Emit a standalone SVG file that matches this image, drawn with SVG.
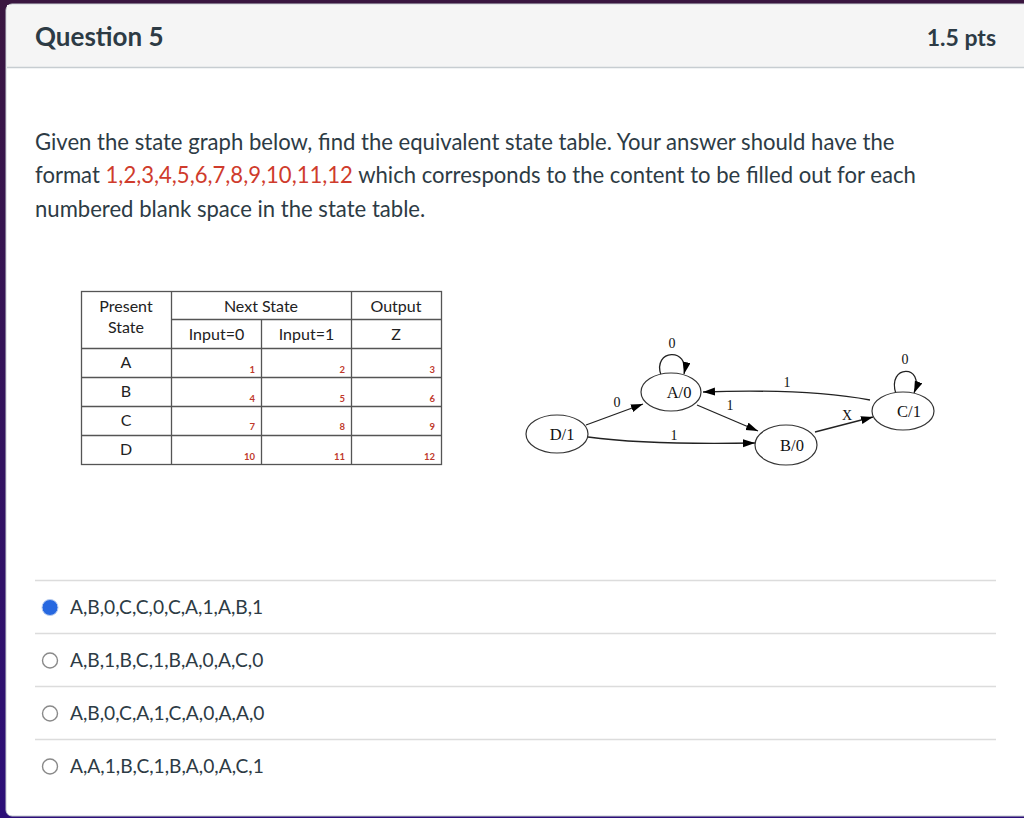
<svg xmlns="http://www.w3.org/2000/svg" width="1024" height="818" viewBox="0 0 1024 818">
<defs>
<linearGradient id="bg" x1="0" y1="0" x2="0" y2="1">
<stop offset="0" stop-color="#3a1640"/>
<stop offset="1" stop-color="#2c0f78"/>
</linearGradient>
<marker id="ah" markerUnits="userSpaceOnUse" markerWidth="12" markerHeight="9" refX="12" refY="4" orient="auto">
<path d="M0,0 L12,4 L0,8 z" fill="#000"/>
</marker>
<style>
.t{font-family:Lato,"Noto Sans",sans-serif;fill:#2d3b45}
.tb{font-family:Lato,"Noto Sans",sans-serif;fill:#222;font-size:16px;text-anchor:middle}
.num{font-family:Lato,"Noto Sans",sans-serif;fill:#c0392b;font-size:9.5px;font-weight:bold;text-anchor:end}
.red{fill:#cf3b2c}
.g{font-family:"Liberation Serif",serif;fill:#111;text-anchor:middle}
.st{fill:#fff;stroke:#333;stroke-width:1.2}
.e{fill:none;stroke:#222;stroke-width:1.3;marker-end:url(#ah)}
.tl{stroke:#555;stroke-width:1.3}
.sep{stroke:#dcdcdc;stroke-width:1.3}
.rad{fill:#fff;stroke:#8a8a8a;stroke-width:1.4}
</style>
</defs>
<rect x="0" y="0" width="1024" height="818" fill="url(#bg)"/>
<rect x="6" y="4" width="1030" height="812" rx="6" fill="#fff" stroke="#c7cdd1"/>
<rect x="7" y="5" width="1020" height="62" fill="#f5f5f5"/>
<line x1="7" y1="67.5" x2="1024" y2="67.5" stroke="#c7cdd1" stroke-width="1.3"/>

<g id="header">
<text class="t" x="35" y="46" font-size="26" font-weight="bold">Question 5</text>
<text class="t" x="996" y="46" font-size="23" font-weight="bold" text-anchor="end" fill="#4a4f55">1.5 pts</text>
</g>

<g id="prompt" class="t" font-size="22.1">
<text x="35" y="150">Given the state graph below, find the equivalent state table. Your answer should have the</text>
<text x="35" y="183">format <tspan class="red">1,2,3,4,5,6,7,8,9,10,11,12</tspan> which corresponds to the content to be filled out for each</text>
<text x="35" y="217">numbered blank space in the state table.</text>
</g>

<g id="table">
<rect x="81.5" y="291.5" width="360" height="173" fill="#fff" class="tl"/>
<line class="tl" x1="171.5" y1="291.5" x2="171.5" y2="464.5"/>
<line class="tl" x1="351.5" y1="291.5" x2="351.5" y2="464.5"/>
<line class="tl" x1="261.5" y1="319.5" x2="261.5" y2="464.5"/>
<line class="tl" x1="171.5" y1="319.5" x2="441.5" y2="319.5"/>
<line class="tl" x1="81.5" y1="348.5" x2="441.5" y2="348.5"/>
<line class="tl" x1="81.5" y1="377.5" x2="441.5" y2="377.5"/>
<line class="tl" x1="81.5" y1="406.5" x2="441.5" y2="406.5"/>
<line class="tl" x1="81.5" y1="435.5" x2="441.5" y2="435.5"/>
<text class="tb" x="126" y="312">Present</text>
<text class="tb" x="126" y="333">State</text>
<text class="tb" x="261" y="312">Next State</text>
<text class="tb" x="396" y="312">Output</text>
<text class="tb" x="216.5" y="340">Input=0</text>
<text class="tb" x="306.5" y="340">Input=1</text>
<text class="tb" x="396" y="340">Z</text>
<text class="tb" x="126" y="368">A</text>
<text class="tb" x="126" y="397">B</text>
<text class="tb" x="126" y="426">C</text>
<text class="tb" x="126" y="455">D</text>
<text class="num" x="255" y="373">1</text>
<text class="num" x="345" y="373">2</text>
<text class="num" x="435" y="373">3</text>
<text class="num" x="255" y="402">4</text>
<text class="num" x="345" y="402">5</text>
<text class="num" x="435" y="402">6</text>
<text class="num" x="255" y="430">7</text>
<text class="num" x="345" y="430">8</text>
<text class="num" x="435" y="430">9</text>
<text class="num" x="255" y="460">10</text>
<text class="num" x="345" y="460">11</text>
<text class="num" x="435" y="460">12</text>
</g>

<g id="connectors">
<path class="e" d="M586,425 L643,404"/>
<path class="e" d="M697,405 L758,431"/>
<path class="e" d="M588,437 C640,444 700,444 755,443"/>
<path class="e" d="M815,432 L873,417"/>
<path class="e" d="M870,400 C820,391 760,390 703,392"/>
<path class="e" d="M661,375 C652,349 690,347 684,374"/>
<path class="e" d="M896,394 C886,364 926,364 914,393"/>
<g class="g" font-size="14">
<text x="617" y="407">0</text>
<text x="730" y="410">1</text>
<text x="674" y="440">1</text>
<text x="847" y="420">X</text>
<text x="787" y="387">1</text>
<text x="672" y="348">0</text>
<text x="905" y="364">0</text>
</g>
</g>

<g id="node-D"><ellipse class="st" cx="557" cy="434" rx="31" ry="19"/><text class="g" x="562" y="440" font-size="16.5">D/1</text></g>
<g id="node-A"><ellipse class="st" cx="671" cy="392" rx="30" ry="19"/><text class="g" x="679" y="398" font-size="16.5">A/0</text></g>
<g id="node-B"><ellipse class="st" cx="786" cy="445" rx="31" ry="20"/><text class="g" x="792" y="451" font-size="16.5">B/0</text></g>
<g id="node-C"><ellipse class="st" cx="903" cy="411" rx="31" ry="19"/><text class="g" x="909" y="417" font-size="16.5">C/1</text></g>

<g id="options">
<line class="sep" x1="35" y1="580.5" x2="996" y2="580.5"/>
<line class="sep" x1="35" y1="633.5" x2="996" y2="633.5"/>
<line class="sep" x1="35" y1="686.5" x2="996" y2="686.5"/>
<line class="sep" x1="35" y1="739.5" x2="996" y2="739.5"/>
<circle cx="50" cy="607.5" r="8" fill="#2768e0" stroke="#b9cdf0" stroke-width="1"/>
<circle class="rad" cx="50" cy="660.5" r="7.5"/>
<circle class="rad" cx="50" cy="713.5" r="7.5"/>
<circle class="rad" cx="50" cy="766.5" r="7.5"/>
<text class="t" x="70" y="614" font-size="19.2">A,B,0,C,C,0,C,A,1,A,B,1</text>
<text class="t" x="70" y="667" font-size="19.2">A,B,1,B,C,1,B,A,0,A,C,0</text>
<text class="t" x="70" y="720" font-size="19.2">A,B,0,C,A,1,C,A,0,A,A,0</text>
<text class="t" x="70" y="773" font-size="19.2">A,A,1,B,C,1,B,A,0,A,C,1</text>
</g>
</svg>
